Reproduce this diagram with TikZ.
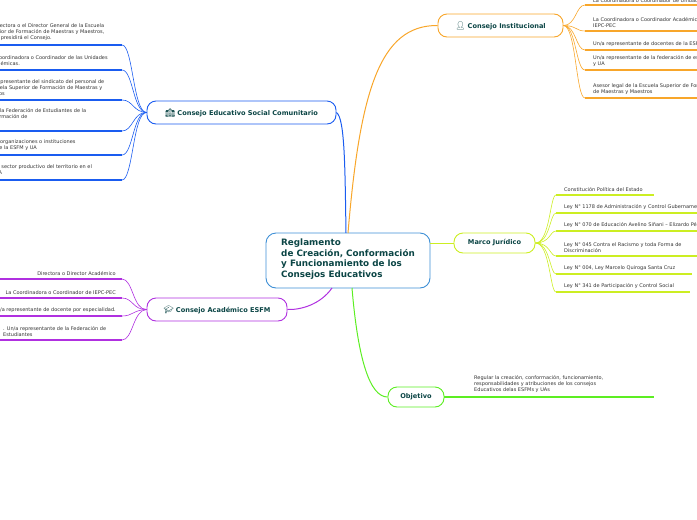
\documentclass[tikz,border=0pt]{standalone}
\usepackage{fontspec}
\setmainfont{DejaVu Sans}
\newfontfamily\emo{Noto Emoji}
\definecolor{cblue}{HTML}{3D8FD6}
\definecolor{ebl}{HTML}{1A5CF0}
\definecolor{ora}{HTML}{F8A62A}
\definecolor{yel}{HTML}{CCEE22}
\definecolor{pur}{HTML}{B030E0}
\definecolor{grn}{HTML}{5CEE22}
\definecolor{ttl}{HTML}{0B4545}
\definecolor{lft}{HTML}{333333}
\tikzset{
 br/.style={draw=#1,line width=0.9pt,rounded corners=9pt,fill=white,font=\bfseries\fontsize{6.6}{7.5}\selectfont,text=ttl,inner sep=0pt},
 lf/.style={anchor=south west,align=left,font=\fontsize{5}{6}\selectfont,text=lft,inner sep=0pt},
 ul/.style={draw=#1,line width=1.6pt},
 cn/.style={draw=#1,line width=0.6pt},
}
\begin{document}
\begin{tikzpicture}[x=1pt,y=-1pt]
\useasboundingbox (0,0) rectangle (697,520);
% central
\node[draw=cblue,line width=0.9pt,rounded corners=10pt,fill=white,minimum width=164pt,minimum height=55pt,inner sep=0pt] (c) at (348,260.5) {};
\node[anchor=north west,align=left,font=\bfseries\fontsize{8.8}{10.5}\selectfont,text=ttl,inner sep=0pt] (ct) at (281,239) {Reglamento\\de Creación, Conformación\\y Funcionamiento de los\\Consejos Educativos};
% branch nodes
\node[br=ora,minimum width=125pt,minimum height=23pt] (ci) at (500.5,25.5) {{\emo\fontsize{8}{8}\selectfont 👤}\ Consejo Institucional};
\node[br=ebl,minimum width=189pt,minimum height=23pt] (ce) at (241.5,112.5) {{\emo\fontsize{8}{8}\selectfont 🏫}\ Consejo Educativo Social Comunitario};
\node[br=pur,minimum width=140pt,minimum height=23pt] (ca) at (217,309.5) {{\emo\fontsize{8}{8}\selectfont 🎓}\ Consejo Académico ESFM};
\node[br=yel,minimum width=81pt,minimum height=20pt] (mj) at (494.5,243) {Marco Jurídico};
\node[br=grn,minimum width=56pt,minimum height=20pt] (ob) at (416,397) {Objetivo};
% main connectors
\draw[ora,line width=1pt] (348,233) .. controls (360,90) and (380,25) .. (ci.west);
\draw[ebl,line width=1pt] (346,233) .. controls (345,170) and (345,118) .. (ce.east);
\draw[pur,line width=1pt] (332,288) .. controls (320,305) and (300,310) .. (ca.east);
\draw[yel,line width=1pt] (c.east|-mj) -- (mj.west);
\draw[grn,line width=1pt] (352,288) .. controls (358,360) and (370,397) .. (ob.west);
% Consejo Educativo leaves
\foreach \n/\y in {1/45,2/70,3/100,4/131,5/155,6/180}{
 \coordinate (e\n) at (122,\y);
 \draw[ul=ebl] (-5,\y) -- (e\n);
 \draw[cn=ebl] (ce.west) .. controls (133,112) and (133,\y) .. (e\n);
}
\node[lf] (le1) at (-15,41) {La Directora o el Director General de la Escuela\\Superior de Formación de Maestras y Maestros,\\quien presidirá el Consejo.};
\node[lf] (le2) at (-12,66) {La Coordinadora o Coordinador de las Unidades\\Académicas.};
\node[lf] (le3) at (-18,96) {Un/a representante del sindicato del personal de\\la Escuela Superior de Formación de Maestras y\\Maestros};
\node[lf] (le4) at (-58,126) {Un/a representante de la Federación de Estudiantes de la\\Escuela Superior de Formación de\\\strut};
\node[lf] (le5) at (-58,151) {Un/a representante de organizaciones o instituciones\\del ámbito vinculado de la ESFM y UA};
\node[lf] (le6) at (-58,176) {Un/a representante del sector productivo del territorio en el\\ámbito de la ESFM y UA};
% Académico leaves
\foreach \n/\y in {1/279,2/298,3/316,4/340}{
 \coordinate (a\n) at (122,\y);
 \draw[ul=pur] (-5,\y) -- (a\n);
 \draw[cn=pur] (ca.west) .. controls (133,310) and (133,\y) .. (a\n);
}
\node[lf,anchor=south east] (la1) at (116,276) {Directora o Director Académico};
\node[lf,anchor=south east] (la2) at (116,295) {La Coordinadora o Coordinador de IEPC-PEC};
\node[lf,anchor=south east] (la3) at (116,313) {Un/a representante de docente por especialidad.};
\node[lf] (la4) at (3,337) {. Un/a representante de la Federación de\\Estudiantes};
% Institucional leaves
\foreach \n/\y in {1/5,2/31,3/50,4/70,5/98}{
 \coordinate (i\n) at (585,\y);
 \draw[ul=ora] (i\n) -- (700,\y);
 \draw[cn=ora] (ci.east) .. controls (576,25.5) and (576,\y) .. (i\n);
}
\node[lf] (li1) at (593,3) {La Coordinadora o Coordinador de Unidades Académicas};
\node[lf] (li2) at (593,28) {La Coordinadora o Coordinador Académico de\\IEPC-PEC};
\node[lf] (li3) at (593,47) {Un/a representante de docentes de la ESFM y UA};
\node[lf] (li4) at (593,67) {Un/a representante de la federación de estudiantes de la ESFM\\y UA};
\node[lf] (li5) at (593,95) {Asesor legal de la Escuela Superior de Formación\\de Maestras y Maestros};
% Marco Jurídico leaves
\foreach \n/\y/\e in {1/195/654,2/213/700,3/231/700,4/256/700,5/274/692,6/292/690}{
 \coordinate (m\n) at (556,\y);
 \draw[ul=yel] (m\n) -- (\e,\y);
 \draw[cn=yel] (mj.east) .. controls (550,243) and (550,\y) .. (m\n);
}
\node[lf] (lm1) at (564,192) {Constitución Política del Estado};
\node[lf] (lm2) at (564,210) {Ley N° 1178 de Administración y Control Gubernamentales};
\node[lf] (lm3) at (564,228) {Ley N° 070 de Educación Avelino Siñani – Elizardo Pérez};
\node[lf] (lm4) at (564,253) {Ley N° 045 Contra el Racismo y toda Forma de\\Discriminación};
\node[lf] (lm5) at (564,271) {Ley N° 004, Ley Marcelo Quiroga Santa Cruz};
\node[lf] (lm6) at (564,289) {Ley N° 341 de Participación y Control Social};
% Objetivo leaf
\coordinate (o1) at (654,397);
\draw[ul=grn] (ob.east) -- (o1);
\node[lf] (lo1) at (474,393) {Regular la creación, conformación, funcionamiento,\\responsabilidades y atribuciones de los consejos\\Educativos delas ESFMs y UAs};
\end{tikzpicture}
\end{document}
